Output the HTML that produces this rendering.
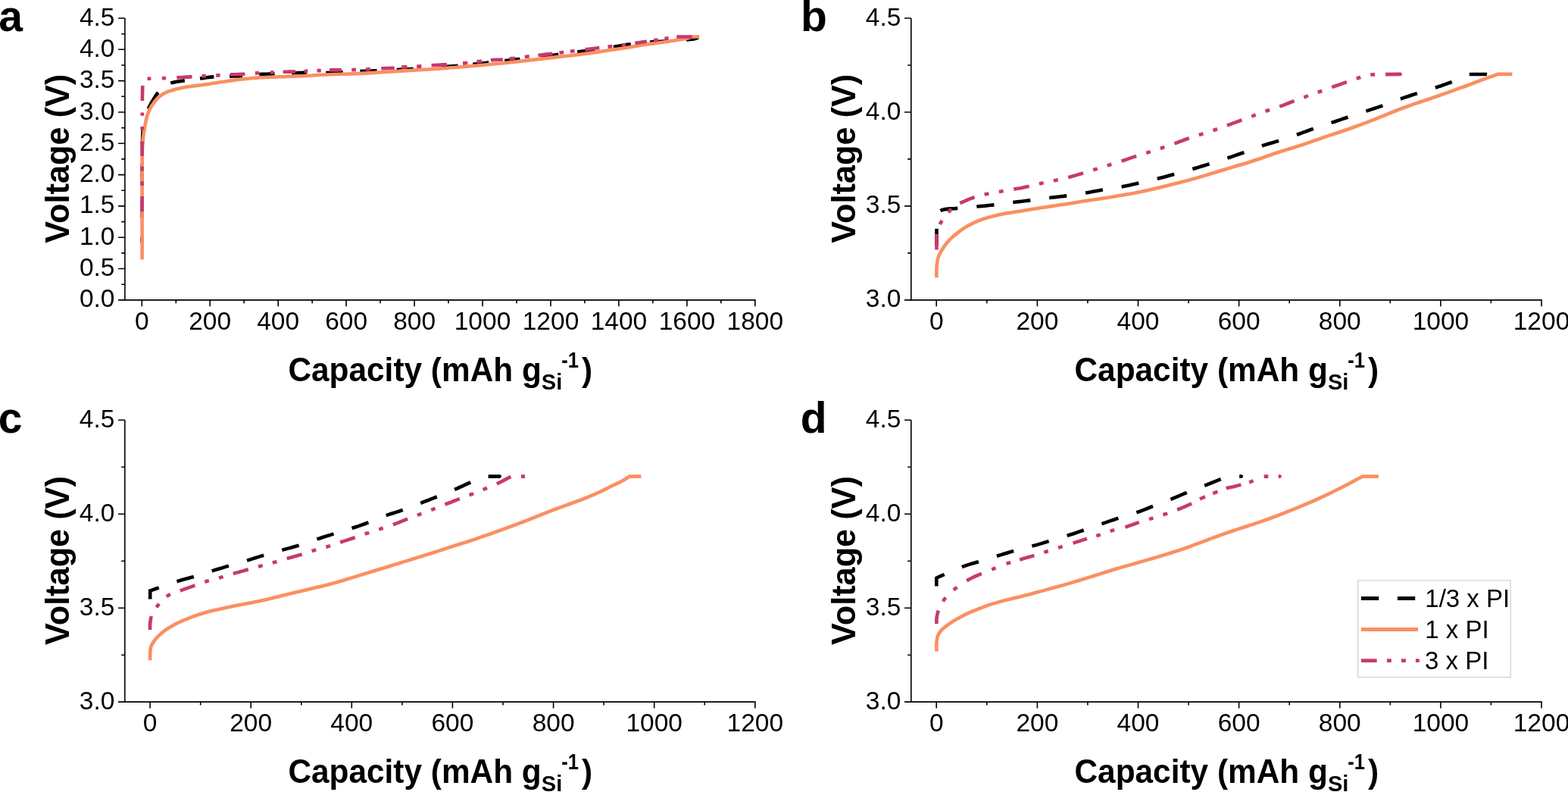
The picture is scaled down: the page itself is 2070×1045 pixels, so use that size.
<!DOCTYPE html>
<html><head><meta charset="utf-8"><title>Voltage profiles</title>
<style>
html,body{margin:0;padding:0;background:#fff;}
body{width:2070px;height:1045px;overflow:hidden;}
svg{display:block;}
text{font-family:"Liberation Sans",Arial,Helvetica,sans-serif;fill:#000;}
.tk{font-size:33.5px;}
.ti{font-size:44.5px;font-weight:bold;}
.sb{font-size:29px;}
.lb{font-size:57px;font-weight:bold;}
.lg{font-size:33px;}
</style></head>
<body>
<svg width="2070" height="1045" viewBox="0 0 2070 1045">
<rect width="2070" height="1045" fill="#fff"/>
<path d="M164.9 24.0 L164.9 395.9 L997.6 395.9" fill="none" stroke="#000" stroke-width="1.6" stroke-linejoin="miter"/>
<text x="151.5" y="405.4" text-anchor="end" class="tk">0.0</text>
<text x="151.5" y="364.0" text-anchor="end" class="tk">0.5</text>
<text x="151.5" y="322.7" text-anchor="end" class="tk">1.0</text>
<text x="151.5" y="281.4" text-anchor="end" class="tk">1.5</text>
<text x="151.5" y="240.1" text-anchor="end" class="tk">2.0</text>
<text x="151.5" y="198.8" text-anchor="end" class="tk">2.5</text>
<text x="151.5" y="157.5" text-anchor="end" class="tk">3.0</text>
<text x="151.5" y="116.1" text-anchor="end" class="tk">3.5</text>
<text x="151.5" y="74.8" text-anchor="end" class="tk">4.0</text>
<text x="151.5" y="33.5" text-anchor="end" class="tk">4.5</text>
<text x="187.3" y="435.1" text-anchor="middle" class="tk">0</text>
<text x="277.2" y="435.1" text-anchor="middle" class="tk">200</text>
<text x="367.2" y="435.1" text-anchor="middle" class="tk">400</text>
<text x="457.1" y="435.1" text-anchor="middle" class="tk">600</text>
<text x="547.1" y="435.1" text-anchor="middle" class="tk">800</text>
<text x="637.0" y="435.1" text-anchor="middle" class="tk">1000</text>
<text x="727.0" y="435.1" text-anchor="middle" class="tk">1200</text>
<text x="816.9" y="435.1" text-anchor="middle" class="tk">1400</text>
<text x="906.9" y="435.1" text-anchor="middle" class="tk">1600</text>
<text x="996.8" y="435.1" text-anchor="middle" class="tk">1800</text>
<path d="M156.1 395.9H164.9M160.3 375.2H164.9M156.1 354.5H164.9M160.3 333.9H164.9M156.1 313.2H164.9M160.3 292.6H164.9M156.1 271.9H164.9M160.3 251.2H164.9M156.1 230.6H164.9M160.3 209.9H164.9M156.1 189.3H164.9M160.3 168.6H164.9M156.1 148.0H164.9M160.3 127.3H164.9M156.1 106.6H164.9M160.3 86.0H164.9M156.1 65.3H164.9M160.3 44.7H164.9M156.1 24.0H164.9M187.3 395.9V404.2M232.3 395.9V400.2M277.2 395.9V404.2M322.2 395.9V400.2M367.2 395.9V404.2M412.2 395.9V400.2M457.1 395.9V404.2M502.1 395.9V400.2M547.1 395.9V404.2M592.0 395.9V400.2M637.0 395.9V404.2M682.0 395.9V400.2M727.0 395.9V404.2M771.9 395.9V400.2M816.9 395.9V404.2M861.9 395.9V400.2M906.9 395.9V404.2M951.8 395.9V400.2M996.8 395.9V404.2" fill="none" stroke="#000" stroke-width="1.6"/>
<text transform="translate(90.90 320.66) rotate(-90) scale(0.973 1)" class="ti">Voltage (V)</text>
<text transform="translate(380.45 502.90) scale(0.9526 1)" class="ti">Capacity (mAh g</text>
<text x="714.86" y="513.90" class="ti sb">Si</text>
<text transform="translate(741.20 484.80) scale(0.88 1)" class="ti sb">-1</text>
<text transform="translate(767.96 502.90) scale(0.955 1)" class="ti">)</text>
<text x="-1.67" y="40.80" class="lb">a</text>
<path d="M187.3 320.0L187.3 312.2L187.3 301.3L187.4 288.4L187.4 274.8L187.5 261.6L187.5 250.0L187.6 239.6L187.6 229.4L187.7 219.6L187.7 210.4L187.8 202.1L187.9 195.0L188.0 189.2L188.1 184.7L188.2 181.0L188.3 177.9L188.5 175.0L188.7 172.0L188.9 169.0L189.2 166.2L189.5 163.7L189.8 161.4L190.2 159.1L190.6 157.0L191.4 154.0L192.4 151.4L193.4 148.9L194.5 146.5L195.5 144.1L196.6 141.9L197.7 139.7L198.8 137.6L200.0 135.5L201.3 133.3L202.5 131.3L203.8 129.3L205.3 126.8L206.9 124.4L208.6 122.1L210.1 120.3L211.7 118.5L213.5 116.8L215.5 115.2L217.5 113.7L219.6 112.2L222.1 110.8L225.2 109.6L227.8 108.9L230.7 108.3L233.9 107.8L237.2 107.3L240.6 106.8L243.9 106.3L247.2 105.8L250.7 105.3L254.2 104.8L257.7 104.4L261.1 103.9L264.4 103.5L267.5 103.1L270.4 102.7L273.3 102.3L276.1 101.9L279.1 101.6L282.3 101.3L285.8 101.1L289.5 100.9L293.3 100.8L297.0 100.8L300.7 100.7L304.0 100.6L306.9 100.5L309.5 100.5L311.9 100.5L314.4 100.5L317.0 100.4L320.0 100.2L323.4 99.9L327.2 99.5L331.2 99.1L335.2 98.7L339.1 98.3L342.8 98.0L346.2 97.8L349.4 97.7L352.5 97.7L355.6 97.6L358.8 97.6L362.2 97.5L365.9 97.3L369.9 97.2L374.0 97.0L378.1 96.7L382.0 96.6L385.7 96.4L389.0 96.3L392.0 96.2L394.9 96.1L397.8 96.0L400.9 95.9L404.4 95.9L408.4 95.9L412.8 95.9L417.3 96.0L422.0 96.0L426.5 96.0L430.7 96.0L434.6 95.9L438.3 95.7L441.9 95.6L445.5 95.4L449.0 95.2L452.7 95.0L456.4 94.8L460.2 94.7L464.0 94.5L467.7 94.3L471.5 94.1L475.3 94.0L479.0 93.9L482.7 93.8L486.4 93.7L490.2 93.6L494.0 93.4L497.9 93.3L502.0 93.1L506.2 92.9L510.4 92.7L514.7 92.4L518.9 92.2L523.0 92.0L526.9 91.8L530.7 91.6L534.4 91.4L538.1 91.2L541.8 91.0L545.6 90.8L549.4 90.5L553.2 90.3L557.0 89.9L560.9 89.6L565.0 89.3L569.5 89.0L574.5 88.7L579.9 88.4L585.5 88.0L591.2 87.7L596.6 87.4L601.7 87.0L606.4 86.6L611.1 86.2L615.5 85.8L619.7 85.3L623.5 85.0L627.0 84.6L630.2 84.3L632.4 84.1L634.4 83.8L637.0 83.6L641.0 83.1L645.7 82.6L651.2 81.9L657.4 81.2L663.8 80.4L670.1 79.7L676.0 79.0L681.3 78.4L686.3 78.0L691.2 77.5L696.3 77.0L701.8 76.4L708.0 75.7L715.0 74.8L722.8 73.8L730.9 72.7L739.2 71.5L747.3 70.4L755.0 69.4L762.3 68.5L769.6 67.6L776.6 66.7L783.4 65.9L789.9 65.0L796.0 64.2L801.7 63.3L807.1 62.5L812.1 61.6L816.8 60.8L821.1 60.0L825.0 59.4L828.2 58.9L830.8 58.6L833.0 58.3L835.0 58.0L837.3 57.8L840.0 57.5L843.0 57.2L846.1 56.8L849.4 56.5L852.9 56.1L856.9 55.8L861.4 55.4L866.8 55.0L873.0 54.7L879.7 54.3L886.3 53.9L892.4 53.5L897.6 53.2L901.8 52.9L905.5 52.6L908.7 52.3L911.4 52.0L913.9 51.7L916.0 51.4L919.1 50.6L920.9 49.8L922.0 49.2" fill="none" stroke="#000" stroke-width="4.6" stroke-dasharray="7.51 25.10 23.20 25.10 23.20 25.10 23.20 25.10 25.11 21.06 19.00 20.33 18.53 20.70 16.92 22.36 20.35 22.72 19.81 25.10 22.48 22.71 22.21 26.17 22.28 36.39 22.37 19.85 21.09 21.08 20.37 27.93 23.20 25.10 23.20 25.10 23.20 25.10 23.20 25.10 16.51 50.00" stroke-linejoin="miter"/>
<path d="M187.6 342.6L187.6 332.0L187.6 316.8L187.6 299.1L187.6 280.8L187.6 263.8L187.6 250.0L187.6 239.4L187.6 230.4L187.7 222.7L187.7 216.0L187.7 210.2L187.8 205.0L187.9 200.7L187.9 197.5L188.0 195.2L188.1 193.4L188.2 191.7L188.3 190.0L188.5 186.9L188.6 184.6L188.9 182.0L189.2 179.6L189.6 177.0L189.9 174.4L190.3 172.0L190.7 169.5L191.2 167.3L191.7 164.6L192.2 162.0L192.7 159.0L193.4 156.0L194.1 153.2L194.9 150.6L195.9 148.2L196.9 145.8L198.0 143.6L199.1 141.5L200.2 139.6L201.5 137.8L202.8 135.9L204.3 134.0L205.9 132.0L207.6 130.1L209.4 128.3L211.4 126.7L213.5 125.2L215.7 123.8L218.1 122.5L220.5 121.4L223.1 120.4L225.7 119.6L228.6 118.7L231.1 118.0L233.8 117.3L236.5 116.7L239.3 116.1L242.0 115.5L244.6 115.0L247.1 114.6L249.6 114.2L252.2 113.9L255.0 113.5L257.5 113.2L260.1 112.9L262.8 112.5L265.6 112.2L268.6 111.8L271.7 111.4L275.0 110.9L278.6 110.3L282.3 109.8L286.1 109.2L289.8 108.6L293.5 108.0L297.1 107.5L300.6 106.9L304.2 106.4L307.7 105.9L311.4 105.5L315.2 105.0L319.2 104.5L323.4 104.1L327.6 103.7L331.8 103.3L336.0 102.9L340.0 102.6L343.8 102.3L347.5 102.2L351.0 102.0L354.6 101.9L358.1 101.7L361.7 101.6L365.3 101.5L369.0 101.3L372.6 101.2L376.2 101.1L379.9 100.9L383.5 100.8L387.1 100.7L390.6 100.5L394.2 100.4L397.7 100.2L401.4 100.1L405.2 99.9L408.9 99.7L412.4 99.5L415.9 99.2L419.9 99.0L424.5 98.8L430.0 98.5L436.7 98.3L444.2 98.0L452.5 97.8L461.1 97.6L469.8 97.3L478.3 96.9L486.8 96.4L495.4 95.9L504.2 95.3L512.9 94.7L521.5 94.2L530.0 93.6L538.2 93.1L546.2 92.6L554.1 92.1L562.1 91.7L570.1 91.2L578.3 90.6L586.8 90.0L595.4 89.3L604.1 88.7L612.9 88.0L621.5 87.2L630.0 86.5L638.2 85.8L646.2 85.0L654.1 84.3L662.1 83.5L670.1 82.7L678.3 81.8L686.8 80.9L695.4 79.9L704.1 78.9L712.9 77.9L721.5 76.9L730.0 75.9L738.2 74.9L746.2 74.0L754.1 73.1L762.1 72.2L770.1 71.2L778.3 70.1L787.0 68.9L796.3 67.5L805.7 66.1L814.7 64.8L822.9 63.5L830.0 62.4L835.6 61.5L840.1 60.8L843.8 60.2L847.2 59.6L850.5 59.1L854.2 58.5L858.3 57.9L862.6 57.4L866.9 56.8L871.0 56.3L874.8 55.8L878.3 55.3L881.8 54.8L884.8 54.3L887.5 53.8L890.1 53.4L892.8 52.9L895.8 52.4L899.0 51.9L902.1 51.4L905.0 50.9L907.3 50.4L910.1 49.7L911.8 49.0L913.0 48.5L923.0 48.5" fill="none" stroke="#FA8F62" stroke-width="4.6" stroke-linejoin="miter"/>
<path d="M187.6 279.2L187.6 270.2L187.6 257.6L187.6 242.7L187.6 227.2L187.6 212.4L187.6 200.0L187.6 189.7L187.7 180.2L187.7 171.6L187.7 163.7L187.8 156.5L187.8 150.0L187.8 144.2L187.9 139.4L187.9 135.2L187.9 131.5L187.9 128.2L188.0 125.0L188.1 121.5L188.1 118.6L188.2 116.1L188.3 114.0L188.5 112.0L188.9 109.3L189.4 107.4L190.0 106.0L191.3 104.8L193.0 104.2L194.0 103.9L197.0 103.8L199.4 103.7L202.4 103.6L205.9 103.5L209.5 103.4L213.1 103.3L216.4 103.2L219.4 103.1L222.2 103.0L225.0 102.8L227.7 102.7L230.6 102.6L233.6 102.4L236.8 102.2L240.3 102.0L243.8 101.8L247.2 101.6L250.6 101.4L253.7 101.2L256.5 101.0L259.0 100.9L261.4 100.7L263.8 100.6L266.3 100.4L269.0 100.3L272.0 100.2L275.2 100.0L278.5 99.9L281.8 99.7L285.0 99.6L288.0 99.4L290.8 99.2L293.4 99.1L296.0 98.9L298.5 98.7L301.2 98.6L304.0 98.4L307.1 98.3L310.3 98.2L313.7 98.1L317.1 98.0L320.3 97.8L323.4 97.7L326.2 97.5L328.9 97.3L331.4 97.1L334.0 96.8L336.6 96.6L339.5 96.4L342.6 96.2L346.0 96.1L349.5 95.9L353.0 95.8L356.3 95.6L359.3 95.5L362.5 95.3L365.4 95.2L368.2 95.0L370.8 94.9L373.6 94.8L376.4 94.7L379.1 94.7L381.9 94.6L384.7 94.6L387.7 94.5L390.3 94.4L392.9 94.3L395.7 94.2L398.4 94.1L401.2 94.0L404.0 93.9L406.8 93.8L409.7 93.6L412.6 93.5L415.5 93.4L418.3 93.2L421.0 93.1L424.0 93.0L426.7 92.8L429.4 92.7L432.1 92.6L435.0 92.5L437.5 92.4L440.1 92.4L442.8 92.4L445.4 92.4L448.1 92.3L450.8 92.3L453.4 92.3L456.1 92.3L458.7 92.2L461.4 92.2L464.2 92.2L467.0 92.1L470.0 92.0L473.1 91.9L476.3 91.7L479.5 91.6L482.6 91.5L485.7 91.3L488.6 91.1L491.5 91.0L494.4 90.8L497.2 90.6L500.0 90.5L502.9 90.3L505.9 90.2L508.9 90.1L511.9 90.0L514.9 89.9L517.8 89.7L520.5 89.6L523.4 89.4L526.0 89.1L528.6 88.9L531.3 88.6L534.3 88.4L537.2 88.2L540.3 88.1L543.6 88.0L546.9 87.9L550.1 87.8L553.2 87.6L555.9 87.4L558.4 87.2L560.7 87.0L563.2 86.8L566.1 86.5L569.5 86.3L573.7 86.0L578.7 85.7L584.0 85.4L589.3 85.2L594.2 84.9L598.4 84.6L601.7 84.4L604.5 84.2L606.8 84.0L609.0 83.8L611.4 83.6L614.0 83.3L617.0 83.0L620.2 82.6L623.5 82.2L626.8 81.8L630.0 81.4L633.0 81.0L635.7 80.7L638.3 80.4L640.7 80.1L643.1 79.8L645.5 79.5L648.0 79.3L650.6 79.1L653.3 79.0L656.0 78.9L658.7 78.8L661.3 78.7L663.7 78.5L666.3 78.3L668.6 78.0L670.8 77.7L673.3 77.4L676.2 77.0L679.0 76.7L682.0 76.3L685.2 75.9L688.6 75.5L692.1 75.1L695.7 74.7L699.5 74.3L703.5 73.8L707.6 73.3L711.8 72.8L715.9 72.4L719.8 71.9L723.6 71.4L727.5 71.0L731.2 70.5L734.8 70.1L738.3 69.7L741.4 69.3L744.5 68.9L747.1 68.6L749.5 68.3L752.2 67.9L755.7 67.5L759.4 67.0L763.6 66.5L768.2 66.0L772.9 65.4L777.5 64.8L781.8 64.3L785.9 63.8L790.0 63.3L794.1 62.8L798.0 62.3L801.7 61.8L805.3 61.4L808.6 61.0L811.5 60.7L814.3 60.3L817.1 60.0L820.0 59.6L823.2 59.2L826.7 58.7L830.5 58.1L834.5 57.5L838.4 56.9L842.3 56.4L846.0 55.8L849.6 55.3L853.1 54.8L856.5 54.3L859.9 53.8L863.0 53.3L866.0 52.9L869.2 52.4L872.1 51.9L874.7 51.5L877.3 51.0L880.0 50.6L882.9 50.1L886.0 49.6L888.9 49.2L891.4 48.8L893.2 48.5L911.6 48.5" fill="none" stroke="#C8396F" stroke-width="4.6" stroke-dasharray="20.30 13.90 5.70 13.80 5.70 13.80 19.50 15.20 4.30 14.30 4.30 15.30 20.10 12.44 4.81 14.41 5.20 14.42 20.15 13.03 5.31 13.42 5.40 13.42 19.42 13.44 5.31 14.81 4.70 12.02 16.42 11.70 4.70 12.11 5.30 11.22 15.80 13.42 5.80 13.03 5.79 14.53 17.43 9.64 7.31 12.52 6.32 13.15 20.52 21.08 6.35 12.16 6.73 11.98 15.76 8.98 7.21 13.07 5.92 11.83 18.98 9.25 5.83 8.60 5.94 13.85 19.04 11.20 5.96 12.39 5.35 12.52 15.74 9.22 5.97 8.62 5.25 10.74 18.40 50.00" stroke-linejoin="miter"/><circle cx="911.6" cy="48.5" r="2.30" fill="#C8396F"/>
<path d="M1202.8 24.0 L1202.8 395.9 L2035.8 395.9" fill="none" stroke="#000" stroke-width="1.6" stroke-linejoin="miter"/>
<text x="1189.4" y="405.4" text-anchor="end" class="tk">3.0</text>
<text x="1189.4" y="281.4" text-anchor="end" class="tk">3.5</text>
<text x="1189.4" y="157.5" text-anchor="end" class="tk">4.0</text>
<text x="1189.4" y="33.5" text-anchor="end" class="tk">4.5</text>
<text x="1236.2" y="435.1" text-anchor="middle" class="tk">0</text>
<text x="1369.4" y="435.1" text-anchor="middle" class="tk">200</text>
<text x="1502.5" y="435.1" text-anchor="middle" class="tk">400</text>
<text x="1635.6" y="435.1" text-anchor="middle" class="tk">600</text>
<text x="1768.8" y="435.1" text-anchor="middle" class="tk">800</text>
<text x="1901.9" y="435.1" text-anchor="middle" class="tk">1000</text>
<text x="2035.0" y="435.1" text-anchor="middle" class="tk">1200</text>
<path d="M1194.0 395.9H1202.8M1198.2 333.9H1202.8M1194.0 271.9H1202.8M1198.2 209.9H1202.8M1194.0 148.0H1202.8M1198.2 86.0H1202.8M1194.0 24.0H1202.8M1236.2 395.9V404.2M1302.8 395.9V400.2M1369.4 395.9V404.2M1435.9 395.9V400.2M1502.5 395.9V404.2M1569.1 395.9V400.2M1635.6 395.9V404.2M1702.2 395.9V400.2M1768.8 395.9V404.2M1835.3 395.9V400.2M1901.9 395.9V404.2M1968.4 395.9V400.2M2035.0 395.9V404.2" fill="none" stroke="#000" stroke-width="1.6"/>
<text transform="translate(1128.80 320.66) rotate(-90) scale(0.973 1)" class="ti">Voltage (V)</text>
<text transform="translate(1418.51 502.90) scale(0.9526 1)" class="ti">Capacity (mAh g</text>
<text x="1752.91" y="513.90" class="ti sb">Si</text>
<text transform="translate(1779.26 484.80) scale(0.88 1)" class="ti sb">-1</text>
<text transform="translate(1806.01 502.90) scale(0.955 1)" class="ti">)</text>
<text x="1057.04" y="40.80" class="lb">b</text>
<path d="M1236.5 324.0L1236.5 321.3L1236.5 317.6L1236.5 313.1L1236.5 308.6L1236.5 304.3L1236.5 300.9L1236.6 297.2L1236.7 294.5L1236.8 292.2L1237.0 290.0L1237.4 287.0L1237.9 284.2L1238.5 282.0L1239.5 279.8L1241.0 278.3L1243.3 277.2L1246.0 276.5L1247.7 276.1L1249.6 275.9L1252.0 275.6L1254.1 275.4L1256.4 275.3L1259.3 275.2L1263.3 274.9L1266.8 274.6L1270.9 274.2L1275.4 273.8L1280.1 273.4L1284.7 273.0L1288.9 272.6L1292.8 272.2L1296.5 271.9L1300.1 271.6L1303.7 271.2L1307.4 270.8L1311.3 270.4L1315.5 269.9L1319.8 269.3L1324.2 268.7L1328.7 268.1L1333.0 267.5L1337.2 267.0L1341.1 266.5L1344.8 266.1L1348.4 265.7L1352.0 265.3L1355.7 264.9L1359.6 264.4L1363.7 263.9L1368.1 263.3L1372.5 262.7L1376.9 262.1L1381.3 261.5L1385.4 261.0L1389.3 260.5L1393.0 260.1L1396.7 259.7L1400.3 259.3L1404.0 258.9L1407.8 258.4L1411.8 257.8L1416.0 257.2L1420.3 256.6L1424.6 255.9L1428.8 255.3L1432.8 254.6L1436.7 253.9L1440.4 253.3L1444.0 252.6L1447.6 251.9L1451.4 251.3L1455.2 250.6L1459.2 249.9L1463.4 249.3L1467.6 248.6L1471.8 247.9L1476.0 247.2L1480.1 246.5L1484.0 245.7L1487.9 245.0L1491.7 244.2L1495.5 243.3L1499.4 242.5L1503.3 241.6L1507.4 240.7L1511.5 239.7L1515.7 238.8L1519.9 237.8L1524.0 236.8L1528.0 235.8L1531.7 234.8L1535.3 233.9L1538.8 233.0L1542.3 232.0L1545.9 231.0L1549.7 230.0L1553.8 228.9L1558.0 227.7L1562.4 226.5L1566.8 225.2L1571.0 224.0L1575.1 222.8L1578.9 221.7L1582.5 220.6L1586.0 219.5L1589.5 218.5L1593.1 217.4L1596.8 216.2L1600.8 215.0L1604.9 213.6L1609.1 212.3L1613.4 210.9L1617.5 209.6L1621.4 208.3L1625.1 207.1L1628.6 205.9L1632.0 204.7L1635.4 203.5L1638.9 202.3L1642.5 201.0L1646.3 199.6L1650.3 198.1L1654.4 196.6L1658.5 195.1L1662.5 193.6L1666.4 192.3L1670.1 191.1L1673.7 190.0L1677.3 189.0L1680.8 188.0L1684.4 186.9L1688.1 185.8L1692.0 184.6L1696.0 183.2L1700.0 181.9L1704.1 180.5L1708.1 179.1L1712.0 177.8L1715.7 176.5L1719.3 175.2L1722.9 173.9L1726.5 172.5L1730.1 171.2L1733.8 169.9L1737.7 168.6L1741.7 167.2L1745.8 165.9L1749.8 164.5L1753.8 163.2L1757.7 161.9L1761.4 160.7L1764.9 159.5L1768.4 158.4L1771.8 157.2L1775.3 156.0L1779.0 154.8L1782.9 153.5L1786.9 152.2L1790.9 150.8L1795.0 149.4L1799.0 148.1L1802.9 146.8L1806.6 145.6L1810.2 144.4L1813.8 143.2L1817.3 142.1L1820.9 140.9L1824.6 139.6L1828.4 138.2L1832.3 136.8L1836.2 135.3L1840.1 133.8L1844.0 132.3L1847.8 130.9L1851.5 129.6L1855.0 128.4L1858.6 127.2L1862.1 126.0L1865.8 124.8L1869.6 123.6L1873.7 122.3L1877.9 121.0L1882.3 119.7L1886.7 118.3L1890.9 117.0L1894.9 115.7L1898.7 114.4L1902.5 113.2L1906.1 111.9L1909.6 110.7L1912.8 109.5L1915.9 108.4L1918.7 107.3L1921.3 106.3L1923.7 105.3L1925.9 104.3L1928.0 103.4L1930.0 102.5L1932.9 101.2L1935.6 99.9L1937.9 98.8L1939.5 98.0L1972.0 97.9" fill="none" stroke="#000" stroke-width="4.6" stroke-dasharray="23.2 25.1" stroke-dashoffset="1.05" stroke-linejoin="miter"/>
<path d="M1236.4 366.2L1236.4 363.9L1236.4 360.6L1236.4 357.3L1236.5 354.3L1236.6 351.4L1236.9 348.5L1237.3 345.6L1237.9 342.8L1238.6 340.0L1239.5 337.4L1240.6 334.9L1242.0 332.3L1243.3 330.1L1244.7 327.9L1246.2 325.6L1247.8 323.4L1249.4 321.3L1251.0 319.4L1252.7 317.4L1254.4 315.6L1256.2 313.9L1258.0 312.2L1260.0 310.6L1262.1 308.9L1263.9 307.4L1265.8 305.9L1267.9 304.3L1269.9 302.8L1272.0 301.4L1274.1 300.1L1276.3 298.8L1278.5 297.6L1280.8 296.4L1283.0 295.3L1285.2 294.2L1287.4 293.2L1289.6 292.2L1291.8 291.3L1294.0 290.4L1296.8 289.4L1299.5 288.5L1302.2 287.7L1305.0 286.9L1307.7 286.1L1310.4 285.4L1313.2 284.7L1316.0 284.0L1318.3 283.5L1320.7 282.9L1323.1 282.4L1325.5 282.0L1328.0 281.5L1330.1 281.1L1331.9 280.9L1334.0 280.6L1336.7 280.2L1340.6 279.6L1345.1 278.9L1350.5 278.0L1356.5 277.1L1362.8 276.0L1369.1 275.0L1375.1 274.1L1380.8 273.2L1386.6 272.4L1392.3 271.5L1398.0 270.6L1403.8 269.8L1409.5 268.9L1415.3 268.0L1421.3 267.0L1427.3 266.1L1433.1 265.1L1438.7 264.2L1444.0 263.4L1448.7 262.7L1452.9 262.1L1456.9 261.5L1460.9 260.9L1465.2 260.3L1470.0 259.5L1475.4 258.6L1481.3 257.6L1487.5 256.5L1493.7 255.4L1500.0 254.2L1506.2 253.0L1512.2 251.7L1518.3 250.3L1524.3 248.9L1530.4 247.5L1536.5 246.0L1542.5 244.5L1548.5 243.0L1554.6 241.5L1560.6 240.0L1566.6 238.4L1572.7 236.8L1578.7 235.1L1584.7 233.4L1590.8 231.6L1596.8 229.7L1602.8 227.9L1608.9 226.0L1614.9 224.2L1620.9 222.4L1627.0 220.6L1633.0 218.8L1639.1 217.0L1645.2 215.2L1651.2 213.3L1657.3 211.3L1663.5 209.2L1669.6 207.1L1675.7 205.0L1681.6 202.9L1687.4 201.0L1692.9 199.2L1698.2 197.6L1703.4 196.0L1708.5 194.5L1713.6 192.9L1718.8 191.2L1724.1 189.4L1729.4 187.6L1734.8 185.7L1740.2 183.8L1745.5 181.9L1750.7 180.1L1755.8 178.4L1760.8 176.8L1765.8 175.2L1770.8 173.5L1775.9 171.8L1781.2 170.0L1786.7 168.0L1792.4 165.9L1798.2 163.8L1804.1 161.6L1810.0 159.3L1815.9 157.0L1821.7 154.7L1827.5 152.3L1833.3 149.9L1839.3 147.5L1845.5 145.0L1852.2 142.5L1859.4 139.9L1867.1 137.2L1875.1 134.5L1883.2 131.8L1891.1 129.1L1898.6 126.5L1905.9 123.9L1913.3 121.3L1920.6 118.7L1927.4 116.2L1933.7 114.0L1939.1 112.0L1943.5 110.4L1947.0 109.0L1949.9 107.9L1952.5 106.9L1955.1 105.9L1958.0 104.8L1961.4 103.6L1965.2 102.2L1968.9 100.9L1972.4 99.7L1975.4 98.6L1977.5 97.9L1996.4 97.9" fill="none" stroke="#FA8F62" stroke-width="4.6" stroke-linejoin="miter"/>
<path d="M1236.5 329.6L1236.5 327.3L1236.4 324.0L1236.4 320.1L1236.4 316.2L1236.4 312.5L1236.5 309.7L1236.8 306.3L1237.2 304.2L1238.0 302.0L1238.8 299.9L1239.9 297.7L1241.0 295.4L1242.2 293.3L1243.3 291.3L1244.5 289.3L1245.7 287.3L1247.0 285.5L1248.9 283.2L1250.9 281.1L1252.9 279.1L1254.8 277.1L1256.8 275.1L1259.0 273.2L1260.7 271.9L1262.4 270.8L1264.5 269.5L1267.4 268.1L1270.0 266.9L1273.0 265.6L1276.4 264.1L1279.8 262.7L1283.2 261.4L1286.3 260.3L1289.1 259.4L1291.9 258.6L1294.5 257.9L1297.1 257.2L1299.8 256.6L1302.7 256.0L1305.7 255.4L1308.9 254.8L1312.2 254.2L1315.4 253.6L1318.6 253.0L1321.7 252.5L1324.7 252.0L1327.5 251.5L1330.3 251.1L1333.1 250.6L1336.0 250.1L1338.9 249.6L1342.0 249.0L1345.2 248.5L1348.5 247.9L1351.7 247.2L1354.8 246.6L1357.8 246.0L1360.5 245.4L1363.1 244.8L1365.5 244.1L1367.9 243.5L1370.5 242.9L1373.3 242.2L1376.4 241.5L1379.7 240.8L1383.1 240.1L1386.6 239.3L1390.0 238.6L1393.2 237.9L1396.2 237.2L1399.1 236.6L1401.9 236.0L1404.6 235.4L1407.5 234.7L1410.4 234.0L1413.5 233.2L1416.7 232.3L1420.0 231.4L1423.2 230.4L1426.3 229.5L1429.3 228.6L1432.0 227.8L1434.6 227.0L1437.1 226.2L1439.6 225.4L1442.1 224.6L1444.8 223.8L1447.7 222.9L1450.7 222.0L1453.7 221.0L1456.8 220.0L1459.9 219.0L1462.9 218.1L1465.8 217.2L1468.6 216.4L1471.4 215.5L1474.2 214.7L1477.1 213.8L1480.1 212.8L1483.3 211.7L1486.6 210.6L1490.0 209.4L1493.4 208.2L1496.7 207.1L1499.7 206.1L1502.4 205.2L1505.0 204.4L1507.3 203.7L1509.7 203.0L1512.2 202.2L1514.9 201.4L1517.9 200.4L1521.0 199.4L1524.3 198.4L1527.5 197.3L1530.7 196.2L1533.8 195.2L1536.7 194.2L1539.4 193.3L1542.1 192.4L1544.7 191.4L1547.5 190.4L1550.4 189.4L1553.5 188.3L1556.8 187.0L1560.2 185.8L1563.6 184.5L1566.9 183.3L1570.0 182.2L1572.8 181.2L1575.5 180.4L1578.0 179.6L1580.5 178.8L1583.1 178.0L1585.9 177.1L1588.9 176.1L1592.1 175.1L1595.4 174.1L1598.7 173.0L1601.8 172.0L1604.8 171.0L1607.5 170.1L1610.0 169.2L1612.4 168.3L1614.7 167.4L1617.3 166.5L1620.0 165.5L1623.1 164.4L1626.4 163.2L1629.8 161.9L1633.2 160.7L1636.5 159.4L1639.6 158.3L1642.4 157.3L1644.9 156.3L1647.3 155.4L1649.7 154.5L1652.1 153.6L1654.8 152.6L1657.7 151.5L1660.7 150.4L1663.8 149.3L1666.9 148.2L1669.9 147.1L1672.9 146.0L1675.7 145.0L1678.5 144.1L1681.2 143.2L1683.9 142.3L1686.7 141.4L1689.6 140.4L1692.7 139.3L1695.9 138.1L1699.1 136.8L1702.4 135.5L1705.5 134.3L1708.4 133.2L1711.1 132.2L1713.5 131.3L1715.8 130.5L1718.1 129.6L1720.5 128.8L1723.2 127.8L1726.1 126.7L1729.3 125.6L1732.6 124.4L1735.9 123.2L1739.0 122.1L1742.0 121.0L1744.7 120.0L1747.2 119.1L1749.5 118.3L1751.9 117.4L1754.5 116.5L1757.2 115.5L1760.3 114.4L1763.5 113.3L1767.0 112.1L1770.4 110.9L1773.7 109.7L1776.8 108.6L1779.7 107.6L1782.5 106.6L1785.3 105.6L1787.9 104.7L1790.4 103.9L1792.8 103.0L1795.7 102.0L1798.5 100.9L1801.2 99.9L1803.4 99.1L1805.0 98.5L1848.6 97.9" fill="none" stroke="#C8396F" stroke-width="4.6" stroke-dasharray="20.8 13.6 5.9 13.6 5.9 13.8" stroke-dashoffset="73.58" stroke-linejoin="miter"/><circle cx="1848.6" cy="97.9" r="2.30" fill="#C8396F"/>
<path d="M164.8 554.3 L164.8 926.1 L997.6 926.1" fill="none" stroke="#000" stroke-width="1.6" stroke-linejoin="miter"/>
<text x="151.4" y="935.6" text-anchor="end" class="tk">3.0</text>
<text x="151.4" y="811.7" text-anchor="end" class="tk">3.5</text>
<text x="151.4" y="687.8" text-anchor="end" class="tk">4.0</text>
<text x="151.4" y="563.8" text-anchor="end" class="tk">4.5</text>
<text x="198.1" y="965.4" text-anchor="middle" class="tk">0</text>
<text x="331.2" y="965.4" text-anchor="middle" class="tk">200</text>
<text x="464.3" y="965.4" text-anchor="middle" class="tk">400</text>
<text x="597.4" y="965.4" text-anchor="middle" class="tk">600</text>
<text x="730.6" y="965.4" text-anchor="middle" class="tk">800</text>
<text x="863.7" y="965.4" text-anchor="middle" class="tk">1000</text>
<text x="996.8" y="965.4" text-anchor="middle" class="tk">1200</text>
<path d="M156.0 926.1H164.8M160.2 864.2H164.8M156.0 802.2H164.8M160.2 740.2H164.8M156.0 678.2H164.8M160.2 616.3H164.8M156.0 554.3H164.8M198.1 926.1V934.5M264.7 926.1V930.5M331.2 926.1V934.5M397.8 926.1V930.5M464.3 926.1V934.5M530.9 926.1V930.5M597.4 926.1V934.5M664.0 926.1V930.5M730.6 926.1V934.5M797.1 926.1V930.5M863.7 926.1V934.5M930.2 926.1V930.5M996.8 926.1V934.5" fill="none" stroke="#000" stroke-width="1.6"/>
<text transform="translate(90.80 850.96) rotate(-90) scale(0.973 1)" class="ti">Voltage (V)</text>
<text transform="translate(380.40 1033.20) scale(0.9526 1)" class="ti">Capacity (mAh g</text>
<text x="714.81" y="1044.20" class="ti sb">Si</text>
<text transform="translate(741.15 1015.10) scale(0.88 1)" class="ti sb">-1</text>
<text transform="translate(767.91 1033.20) scale(0.955 1)" class="ti">)</text>
<text x="-2.23" y="571.00" class="lb">c</text>
<path d="M198.2 791.0L198.2 779.5L199.9 778.9L202.2 778.1L205.2 777.0L209.1 775.6L212.3 774.5L216.0 773.1L220.1 771.7L224.3 770.2L228.5 768.8L232.5 767.5L236.2 766.4L239.9 765.3L243.5 764.3L247.2 763.3L250.9 762.3L254.7 761.2L258.7 760.0L262.7 758.7L266.8 757.4L271.0 756.1L275.0 754.8L279.0 753.6L282.8 752.4L286.5 751.3L290.2 750.2L293.9 749.1L297.6 747.9L301.4 746.8L305.3 745.6L309.4 744.5L313.4 743.3L317.5 742.1L321.6 741.0L325.5 739.8L329.3 738.6L333.0 737.4L336.6 736.3L340.3 735.1L344.0 733.9L347.9 732.7L352.0 731.5L356.2 730.3L360.5 729.1L364.7 727.9L368.9 726.7L372.9 725.6L376.7 724.6L380.2 723.6L383.7 722.7L387.2 721.7L390.7 720.7L394.4 719.6L398.3 718.3L402.3 717.0L406.4 715.6L410.5 714.1L414.6 712.7L418.5 711.4L422.3 710.2L425.8 709.0L429.4 707.9L433.0 706.8L436.8 705.6L440.9 704.3L445.5 702.9L450.6 701.3L455.8 699.7L461.0 698.1L465.8 696.5L470.0 695.2L473.4 694.1L476.2 693.1L478.6 692.3L480.9 691.5L483.4 690.5L486.4 689.4L489.9 688.0L493.7 686.5L497.7 684.9L501.8 683.2L505.8 681.6L509.6 680.2L513.2 678.9L516.7 677.8L520.1 676.7L523.6 675.6L527.2 674.5L530.9 673.2L534.9 671.7L539.2 670.1L543.6 668.4L547.9 666.7L552.1 665.1L556.0 663.6L559.5 662.2L562.7 661.0L565.7 659.8L568.7 658.6L571.9 657.4L575.3 656.0L579.1 654.5L583.1 652.9L587.3 651.2L591.5 649.5L595.6 647.8L599.5 646.2L603.3 644.6L606.9 642.9L610.5 641.3L614.0 639.7L617.4 638.1L620.7 636.6L624.0 635.1L627.4 633.5L630.7 632.0L633.7 630.6L636.2 629.5L638.0 628.6L659.6 628.6" fill="none" stroke="#000" stroke-width="4.6" stroke-dasharray="23.2 25.1" stroke-dashoffset="47.73" stroke-linejoin="miter"/><circle cx="659.6" cy="628.6" r="2.30" fill="#000"/>
<path d="M198.2 871.2L198.2 868.9L198.1 865.7L198.2 862.6L198.3 859.9L198.6 857.3L198.9 855.0L199.6 852.4L200.5 850.5L201.2 849.2L202.1 847.9L203.1 846.3L204.4 844.5L205.8 842.6L207.4 840.9L209.2 839.1L211.1 837.4L213.1 835.6L215.2 833.8L217.4 832.1L219.7 830.5L222.1 829.0L224.7 827.4L226.7 826.2L228.8 825.0L231.0 823.8L233.2 822.6L235.5 821.5L237.8 820.5L240.1 819.4L242.6 818.4L245.2 817.3L247.8 816.3L250.5 815.2L253.2 814.2L255.8 813.2L258.3 812.3L260.9 811.4L263.7 810.5L266.1 809.8L268.5 809.0L271.1 808.2L273.7 807.5L276.3 806.8L278.9 806.2L281.4 805.6L284.1 805.0L286.9 804.4L290.0 803.7L292.9 803.1L295.9 802.4L299.2 801.6L302.5 800.9L305.8 800.2L309.2 799.5L312.6 798.8L316.0 798.2L319.4 797.6L322.9 796.9L326.4 796.3L330.0 795.6L333.6 794.9L337.3 794.1L341.0 793.4L344.8 792.6L348.5 791.8L352.2 791.0L355.8 790.1L359.5 789.3L363.1 788.3L366.7 787.4L370.3 786.5L373.9 785.6L377.2 784.8L380.2 784.1L383.2 783.3L386.5 782.5L390.4 781.6L395.3 780.4L401.5 778.9L408.8 777.2L416.8 775.3L425.0 773.4L432.9 771.4L440.0 769.6L446.4 767.8L452.3 766.1L458.0 764.3L463.6 762.6L469.1 760.9L474.8 759.1L480.6 757.3L486.4 755.6L492.2 753.8L498.0 752.0L503.8 750.3L509.6 748.5L515.4 746.7L521.2 744.9L527.0 743.2L532.7 741.4L538.5 739.6L544.3 737.8L550.3 735.9L556.4 734.0L562.6 732.1L568.5 730.2L574.1 728.5L579.1 726.9L583.4 725.5L587.1 724.3L590.5 723.1L593.7 722.1L596.8 721.1L600.0 720.0L603.3 719.0L606.6 718.0L609.9 717.0L613.1 716.0L616.3 715.0L619.5 714.0L622.7 712.9L625.8 711.9L628.9 710.8L632.0 709.7L635.2 708.6L638.3 707.5L641.5 706.4L644.6 705.3L647.8 704.2L651.0 703.1L654.2 701.9L657.4 700.8L660.6 699.7L663.8 698.5L667.0 697.3L670.2 696.2L673.4 695.0L676.6 693.8L679.8 692.6L683.0 691.4L686.2 690.2L689.3 689.0L692.5 687.8L695.7 686.6L698.9 685.4L702.1 684.1L705.2 682.8L708.4 681.5L711.6 680.3L714.8 679.0L718.0 677.7L721.2 676.5L724.4 675.2L727.6 674.0L730.8 672.7L734.0 671.5L737.3 670.3L740.7 669.1L744.1 667.8L747.4 666.7L750.5 665.5L753.4 664.5L756.5 663.4L759.2 662.4L761.7 661.5L764.2 660.6L766.8 659.6L769.5 658.6L772.2 657.5L774.8 656.4L777.5 655.3L780.2 654.2L782.9 653.0L785.6 651.9L788.2 650.7L790.9 649.5L793.6 648.2L796.3 646.9L799.0 645.6L801.6 644.2L804.3 642.8L807.0 641.5L809.7 640.2L812.5 638.9L815.2 637.7L817.9 636.4L820.4 635.1L822.9 633.7L825.4 632.2L827.7 630.7L829.7 629.5L831.1 628.6L846.4 628.6" fill="none" stroke="#FA8F62" stroke-width="4.6" stroke-linejoin="miter"/>
<path d="M198.0 831.0L198.0 829.3L198.0 826.9L198.1 824.3L198.2 822.0L198.5 819.4L198.9 817.1L199.3 815.0L200.0 812.4L201.0 810.0L201.9 808.1L202.9 806.1L204.0 804.3L205.6 802.1L207.6 799.8L208.9 798.1L210.3 796.2L211.9 794.3L213.5 792.5L215.2 790.9L217.0 789.3L218.8 787.9L220.6 786.6L223.0 785.1L225.4 783.9L228.0 782.8L229.8 782.1L231.6 781.6L233.7 780.9L236.7 779.9L239.4 778.9L242.7 777.7L246.2 776.4L249.9 775.1L253.4 773.8L256.6 772.6L259.4 771.6L262.0 770.7L264.4 769.8L266.8 768.9L269.4 768.1L272.1 767.2L275.1 766.3L278.2 765.5L281.5 764.6L284.8 763.7L288.0 762.9L291.1 762.0L294.1 761.1L296.9 760.3L299.8 759.4L302.6 758.5L305.4 757.7L308.3 756.8L311.3 755.9L314.3 755.1L317.4 754.2L320.5 753.4L323.5 752.5L326.4 751.7L329.2 750.9L331.9 750.2L334.5 749.5L337.1 748.7L339.8 748.0L342.7 747.2L345.7 746.4L348.9 745.5L352.1 744.6L355.4 743.7L358.6 742.9L361.7 742.0L364.7 741.2L367.5 740.3L370.3 739.5L373.1 738.7L376.0 737.9L378.9 737.0L382.0 736.1L385.2 735.2L388.5 734.3L391.7 733.4L394.9 732.5L397.8 731.6L400.4 730.8L402.8 730.0L405.1 729.2L407.4 728.4L409.8 727.6L412.5 726.8L415.5 725.9L418.9 725.0L422.3 724.1L425.8 723.2L429.1 722.2L432.3 721.3L435.2 720.4L437.9 719.5L440.5 718.5L443.1 717.6L445.8 716.7L448.6 715.7L451.7 714.7L454.9 713.6L458.2 712.6L461.5 711.5L464.6 710.5L467.6 709.5L470.3 708.6L472.8 707.7L475.1 706.9L477.5 706.0L480.0 705.2L482.6 704.3L485.5 703.4L488.5 702.4L491.6 701.4L494.7 700.4L497.9 699.4L500.9 698.4L503.8 697.4L506.7 696.5L509.6 695.6L512.5 694.6L515.4 693.7L518.3 692.6L521.3 691.4L524.5 690.2L527.6 688.9L530.8 687.6L533.8 686.4L536.7 685.2L539.4 684.1L542.0 683.2L544.5 682.3L546.9 681.3L549.5 680.4L552.1 679.4L554.9 678.3L557.8 677.3L560.7 676.2L563.6 675.1L566.6 673.9L569.5 672.8L572.4 671.7L575.3 670.5L578.1 669.4L581.0 668.2L583.9 667.1L586.9 665.9L589.9 664.7L593.0 663.5L596.2 662.3L599.3 661.0L602.3 659.9L605.3 658.7L608.1 657.6L610.9 656.6L613.6 655.5L616.2 654.5L618.9 653.5L621.7 652.4L624.6 651.3L627.5 650.1L630.4 648.9L633.3 647.7L636.2 646.6L639.1 645.4L641.9 644.3L644.6 643.2L647.4 642.1L650.1 641.0L652.8 639.8L655.5 638.6L658.4 637.2L661.4 635.7L664.5 634.1L667.3 632.6L669.9 631.2L671.9 630.2L675.0 628.9L676.0 628.6L693.0 628.6" fill="none" stroke="#C8396F" stroke-width="4.6" stroke-dasharray="20.8 13.6 5.9 13.6 5.9 13.8" stroke-dashoffset="2.64" stroke-linejoin="miter"/>
<path d="M1202.8 554.3 L1202.8 926.1 L2035.8 926.1" fill="none" stroke="#000" stroke-width="1.6" stroke-linejoin="miter"/>
<text x="1189.4" y="935.6" text-anchor="end" class="tk">3.0</text>
<text x="1189.4" y="811.7" text-anchor="end" class="tk">3.5</text>
<text x="1189.4" y="687.8" text-anchor="end" class="tk">4.0</text>
<text x="1189.4" y="563.8" text-anchor="end" class="tk">4.5</text>
<text x="1236.2" y="965.4" text-anchor="middle" class="tk">0</text>
<text x="1369.4" y="965.4" text-anchor="middle" class="tk">200</text>
<text x="1502.5" y="965.4" text-anchor="middle" class="tk">400</text>
<text x="1635.6" y="965.4" text-anchor="middle" class="tk">600</text>
<text x="1768.8" y="965.4" text-anchor="middle" class="tk">800</text>
<text x="1901.9" y="965.4" text-anchor="middle" class="tk">1000</text>
<text x="2035.0" y="965.4" text-anchor="middle" class="tk">1200</text>
<path d="M1194.0 926.1H1202.8M1198.2 864.2H1202.8M1194.0 802.2H1202.8M1198.2 740.2H1202.8M1194.0 678.2H1202.8M1198.2 616.3H1202.8M1194.0 554.3H1202.8M1236.2 926.1V934.5M1302.8 926.1V930.5M1369.4 926.1V934.5M1435.9 926.1V930.5M1502.5 926.1V934.5M1569.1 926.1V930.5M1635.6 926.1V934.5M1702.2 926.1V930.5M1768.8 926.1V934.5M1835.3 926.1V930.5M1901.9 926.1V934.5M1968.4 926.1V930.5M2035.0 926.1V934.5" fill="none" stroke="#000" stroke-width="1.6"/>
<text transform="translate(1128.80 850.96) rotate(-90) scale(0.973 1)" class="ti">Voltage (V)</text>
<text transform="translate(1418.51 1033.20) scale(0.9526 1)" class="ti">Capacity (mAh g</text>
<text x="1752.91" y="1044.20" class="ti sb">Si</text>
<text transform="translate(1779.26 1015.10) scale(0.88 1)" class="ti sb">-1</text>
<text transform="translate(1806.01 1033.20) scale(0.955 1)" class="ti">)</text>
<text x="1056.86" y="571.00" class="lb">d</text>
<path d="M1236.3 773.6L1236.3 762.6L1237.6 762.0L1239.4 761.2L1241.7 760.2L1244.4 759.0L1247.7 757.6L1251.0 756.2L1254.8 754.5L1259.0 752.6L1263.4 750.7L1267.7 749.0L1271.7 747.4L1275.5 746.1L1279.1 744.9L1282.7 743.8L1286.3 742.8L1289.9 741.7L1293.7 740.6L1297.6 739.4L1301.6 738.1L1305.7 736.9L1309.8 735.6L1313.8 734.4L1317.6 733.2L1321.2 732.1L1324.7 731.0L1328.1 730.0L1331.5 729.0L1335.0 727.9L1338.6 726.9L1342.4 725.8L1346.5 724.8L1350.5 723.7L1354.6 722.7L1358.6 721.6L1362.5 720.6L1366.1 719.6L1369.6 718.6L1373.0 717.6L1376.4 716.6L1379.9 715.5L1383.6 714.4L1387.6 713.2L1391.8 712.0L1396.1 710.7L1400.3 709.5L1404.5 708.2L1408.4 707.0L1412.0 705.8L1415.3 704.7L1418.5 703.7L1421.7 702.6L1425.0 701.4L1428.5 700.2L1432.3 698.9L1436.3 697.5L1440.3 696.1L1444.4 694.7L1448.5 693.3L1452.4 691.9L1456.1 690.6L1459.7 689.4L1463.3 688.1L1466.9 686.9L1470.5 685.7L1474.4 684.4L1478.5 683.1L1482.9 681.8L1487.3 680.4L1491.7 679.1L1496.0 677.7L1500.0 676.4L1503.7 675.1L1507.1 673.8L1510.3 672.6L1513.5 671.3L1516.8 670.0L1520.3 668.6L1524.0 667.2L1527.9 665.7L1531.8 664.2L1535.7 662.7L1539.7 661.2L1543.5 659.7L1547.2 658.2L1550.9 656.6L1554.6 655.1L1558.3 653.5L1562.0 651.9L1565.7 650.4L1569.5 648.9L1573.5 647.3L1577.4 645.8L1581.3 644.3L1585.2 642.8L1588.9 641.3L1592.5 639.9L1596.2 638.4L1599.7 637.0L1603.1 635.6L1606.3 634.3L1609.2 633.2L1612.4 632.0L1615.5 630.9L1618.2 629.9L1620.4 629.2L1622.0 628.6L1638.8 628.6" fill="none" stroke="#000" stroke-width="4.6" stroke-dasharray="23.2 25.1" stroke-dashoffset="0.76" stroke-linejoin="miter"/><circle cx="1638.8" cy="628.6" r="2.30" fill="#000"/>
<path d="M1236.4 859.5L1236.4 857.5L1236.4 854.7L1236.3 851.6L1236.4 849.0L1236.6 846.3L1236.9 844.0L1237.2 842.0L1237.8 839.6L1238.6 837.6L1239.5 836.0L1240.5 834.5L1241.7 832.9L1243.4 830.9L1245.2 829.2L1247.5 827.3L1250.0 825.4L1252.0 823.9L1254.2 822.4L1256.5 820.8L1258.8 819.3L1261.2 817.9L1263.6 816.5L1266.1 815.2L1268.7 813.8L1270.8 812.7L1273.0 811.5L1275.2 810.4L1277.5 809.3L1279.7 808.3L1282.4 807.1L1285.0 806.1L1287.7 805.1L1290.7 803.9L1292.9 803.0L1295.3 802.1L1297.9 801.1L1300.4 800.1L1302.8 799.2L1305.0 798.4L1308.0 797.4L1310.6 796.6L1313.3 795.9L1316.0 795.1L1318.2 794.5L1320.2 793.9L1322.4 793.3L1324.9 792.6L1328.0 791.8L1331.1 791.0L1334.6 790.2L1338.3 789.3L1342.2 788.4L1346.2 787.5L1350.0 786.5L1353.5 785.6L1356.7 784.8L1359.9 784.0L1363.5 783.0L1367.8 781.8L1373.1 780.4L1379.6 778.6L1387.2 776.5L1395.5 774.3L1404.1 771.9L1412.6 769.4L1420.9 767.0L1429.1 764.5L1437.4 761.9L1445.8 759.2L1454.0 756.6L1461.7 754.2L1468.7 752.0L1474.6 750.2L1479.4 748.9L1483.7 747.6L1488.2 746.4L1493.4 744.9L1500.0 743.0L1508.1 740.6L1517.4 738.0L1527.3 735.1L1537.7 732.0L1548.0 728.8L1558.0 725.6L1567.7 722.3L1577.3 718.7L1587.0 715.1L1596.6 711.4L1606.2 707.8L1615.9 704.3L1625.6 701.0L1635.2 697.9L1644.9 694.8L1654.6 691.6L1664.2 688.4L1673.9 685.0L1683.8 681.3L1694.0 677.4L1704.1 673.3L1714.0 669.3L1723.4 665.4L1731.9 661.8L1739.6 658.4L1746.6 655.2L1753.1 652.1L1759.1 649.2L1764.9 646.3L1770.5 643.5L1776.1 640.6L1781.7 637.7L1787.0 634.9L1791.7 632.3L1795.7 630.2L1798.6 628.6L1819.8 628.6" fill="none" stroke="#FA8F62" stroke-width="4.6" stroke-linejoin="miter"/>
<path d="M1236.3 823.5L1236.4 821.2L1236.4 817.9L1236.6 815.0L1237.0 812.3L1237.5 810.0L1238.1 807.8L1239.1 805.3L1240.1 802.9L1241.2 800.1L1242.5 797.5L1243.8 795.2L1245.2 792.9L1246.8 790.6L1248.2 788.7L1249.7 786.8L1251.3 784.8L1253.0 783.0L1254.7 781.4L1256.5 780.0L1258.5 778.5L1261.1 776.6L1263.2 775.1L1265.5 773.4L1268.1 771.5L1270.7 769.7L1273.5 767.8L1276.4 766.1L1279.4 764.5L1282.6 762.8L1285.9 761.2L1289.3 759.7L1292.5 758.3L1295.6 756.9L1298.4 755.7L1301.1 754.6L1303.7 753.5L1306.3 752.5L1309.0 751.5L1311.8 750.4L1314.8 749.2L1318.0 747.9L1321.2 746.6L1324.4 745.4L1327.6 744.2L1330.6 743.1L1333.5 742.2L1336.2 741.3L1338.9 740.5L1341.6 739.8L1344.4 739.0L1347.2 738.2L1350.2 737.3L1353.2 736.4L1356.3 735.5L1359.4 734.6L1362.5 733.7L1365.4 732.8L1368.2 731.9L1370.9 731.1L1373.6 730.3L1376.2 729.4L1378.9 728.6L1381.7 727.7L1384.6 726.8L1387.7 725.8L1390.8 724.8L1393.8 723.8L1396.9 722.8L1399.8 721.9L1402.6 721.0L1405.3 720.2L1407.9 719.4L1410.6 718.5L1413.3 717.7L1416.1 716.8L1419.0 715.9L1422.1 714.9L1425.2 713.9L1428.3 712.9L1431.4 711.9L1434.3 711.0L1437.1 710.1L1439.8 709.3L1442.4 708.6L1445.0 707.8L1447.7 707.0L1450.5 706.1L1453.4 705.1L1456.5 704.1L1459.6 703.0L1462.7 701.9L1465.8 700.8L1468.7 699.9L1471.5 699.1L1474.2 698.4L1476.9 697.8L1479.5 697.2L1482.2 696.5L1485.0 695.7L1487.9 694.8L1491.0 693.7L1494.1 692.6L1497.1 691.5L1500.2 690.4L1503.1 689.4L1505.9 688.5L1508.6 687.7L1511.2 686.9L1513.8 686.1L1516.5 685.3L1519.3 684.4L1522.3 683.5L1525.3 682.5L1528.5 681.5L1531.6 680.5L1534.7 679.5L1537.7 678.5L1540.5 677.6L1543.2 676.6L1545.9 675.7L1548.6 674.8L1551.3 673.8L1554.1 672.7L1557.1 671.5L1560.2 670.2L1563.4 668.8L1566.6 667.4L1569.6 666.0L1572.5 664.7L1575.1 663.4L1577.5 662.1L1579.8 660.8L1582.1 659.5L1584.5 658.2L1587.0 657.0L1589.8 655.8L1592.7 654.5L1595.6 653.3L1598.6 652.1L1601.5 651.0L1604.3 649.9L1607.0 648.8L1609.6 647.8L1612.2 646.7L1614.6 645.8L1616.9 644.9L1619.0 644.2L1621.6 643.5L1623.8 643.1L1625.8 642.7L1628.0 642.3L1630.3 641.7L1632.7 641.1L1635.2 640.4L1638.0 639.6L1640.6 638.9L1643.6 638.0L1646.6 637.1L1649.5 636.2L1652.0 635.4L1655.2 634.0L1657.7 632.7L1660.0 631.5L1662.2 630.4L1664.2 629.3L1665.5 628.6L1689.6 628.6" fill="none" stroke="#C8396F" stroke-width="4.6" stroke-dasharray="0.00 0.30 17.89 13.60 6.20 14.51 5.88 15.35 21.71 14.50 5.68 15.02 5.82 12.63 20.00 13.57 5.76 13.94 5.76 14.67 19.34 12.90 5.73 13.74 5.71 14.69 19.43 13.78 5.69 13.73 6.00 13.70 20.82 12.41 7.60 11.14 6.66 12.12 20.18 11.24 5.89 15.44 5.60 14.00 1.30 50.00" stroke-linejoin="miter"/><circle cx="1689.6" cy="628.6" r="2.30" fill="#C8396F"/>
<rect x="1792.7" y="765.9" width="201.5" height="127.7" fill="#fff" stroke="#cfcfcf" stroke-width="1.2"/>
<path d="M1796.9 789.4H1872" stroke="#000" stroke-width="5" stroke-dasharray="23.3 24.7" fill="none"/>
<path d="M1796.9 830.5H1872" stroke="#FA8F62" stroke-width="4.8" fill="none"/>
<path d="M1796.9 871.6H1872" stroke="#C8396F" stroke-width="4.6" stroke-dasharray="20.8 13.2 5.9 13.2 5.9 13" fill="none"/>
<circle cx="1872" cy="871.6" r="2.3" fill="#C8396F"/>
<text x="1881.3" y="800.6" class="lg">1/3 x PI</text>
<text x="1881.3" y="841.8" class="lg">1 x PI</text>
<text x="1881.0" y="882.9" class="lg">3 x PI</text>
</svg>
</body></html>
